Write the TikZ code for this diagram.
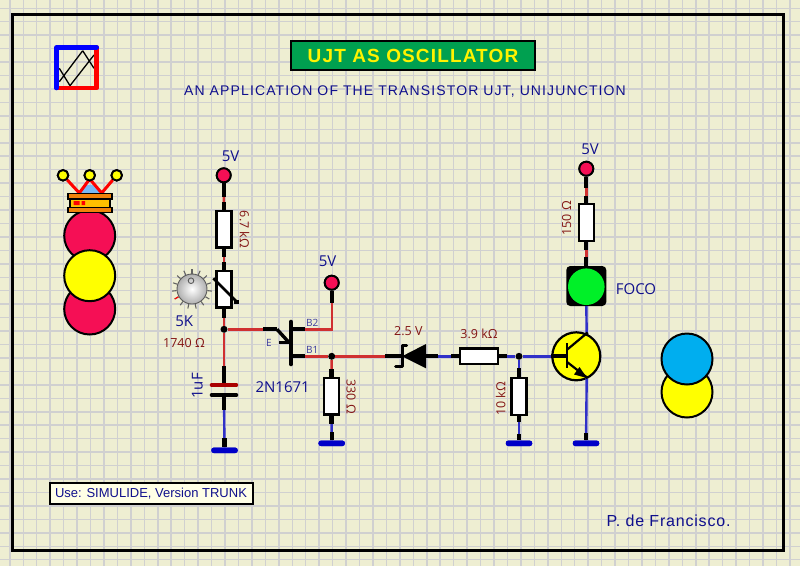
\documentclass[tikz,border=0pt]{standalone}
\usepackage{fontspec}
\setmainfont{Open Sans}
\newfontfamily\arialf{Liberation Sans}
\newfontfamily\authf[LetterSpace=5]{Liberation Sans}
\newfontfamily\subf[LetterSpace=8]{Liberation Sans}
\newfontfamily\titlef[LetterSpace=6]{Liberation Sans}
\definecolor{bgc}{RGB}{238,238,210}
\definecolor{gridc}{RGB}{208,208,208}
\definecolor{navyt}{RGB}{16,16,140}
\definecolor{redt}{RGB}{130,20,20}
\definecolor{wred}{RGB}{208,48,48}
\definecolor{wblue}{RGB}{48,48,200}
\definecolor{crim}{RGB}{245,15,85}
\definecolor{yell}{RGB}{255,255,0}
\definecolor{gnblue}{RGB}{0,0,200}
\definecolor{titleg}{RGB}{0,160,80}
\definecolor{crownb}{RGB}{120,185,245}
\definecolor{crowny}{RGB}{255,192,0}
\definecolor{crowno}{RGB}{240,130,10}
\definecolor{skyb}{RGB}{0,174,239}
\definecolor{ledg}{RGB}{0,240,40}
\definecolor{capr}{RGB}{170,0,0}
\definecolor{knobt}{RGB}{100,100,100}
\definecolor{knobe}{RGB}{175,175,175}
\definecolor{knobl}{RGB}{90,90,90}
\definecolor{pinlc}{RGB}{60,60,160}
\definecolor{notec}{RGB}{255,255,230}
\tikzset{
  x=1pt,y=-1pt,
  gridl/.style={gridc,line width=1.5pt},
  lead/.style={black,line width=4.2pt},
  wr/.style={wred,line width=2.4pt},
  wb/.style={wblue,line width=2.4pt},
  res/.style={draw=black,fill=white,line width=2.2pt,rectangle,inner sep=0pt,minimum width=#1},
  resv/.style={res=15pt,minimum height=36.5pt},
  pin/.style={circle,draw=black,fill=crim,line width=1.9pt,minimum size=14pt,inner sep=0pt},
  gnd/.style={rectangle,rounded corners=2.6pt,fill=gnblue,minimum width=26.5pt,minimum height=5.5pt,inner sep=0pt},
  dotj/.style={circle,fill=black,minimum size=7pt,inner sep=0pt},
  lampc/.style={circle,draw=black,line width=2pt,minimum size=51pt,inner sep=0pt},
  lbl/.style={navyt,font=\fontsize{15}{15}\selectfont,inner sep=0pt},
  val/.style={redt,font=\fontsize{12.5}{13}\selectfont,inner sep=0pt},
  pinl/.style={pinlc,font=\fontsize{10}{10}\selectfont,inner sep=0pt},
}
\begin{document}
\begin{tikzpicture}
\useasboundingbox (0,0) rectangle (800,566);
\fill[bgc] (0,0) rectangle (800,566);
\foreach \k in {0,...,59} \draw[gridl] ({9.8+13.45*\k},0) -- ({9.8+13.45*\k},566);
\foreach \k in {0,...,41} \draw[gridl] (0,{8.25+13.45*\k}) -- (800,{8.25+13.45*\k});
% frame
\draw[black,line width=3pt] (12.7,14) rectangle (783,550);
% logo
\draw[black,line width=1.3pt] (59.3,81.7) -- (82.7,50.7) (70,85.7) -- (94,55) (59.3,68.3) -- (70,85.7) (82.7,50.7) -- (94,68.3);
\draw[red,line width=4.6pt,line cap=round,line join=round] (96.7,47.5) -- (96.7,88) -- (56.5,88);
\draw[blue,line width=4.6pt,line cap=round,line join=round] (56.5,88) -- (56.5,47.5) -- (96.7,47.5);
% title
\node[draw=black,fill=titleg,line width=2pt,minimum width=244pt,minimum height=29pt,inner sep=0pt,text=yellow,font=\titlef\bfseries\fontsize{19}{19}\selectfont] (title) at (413,55.5) {\raisebox{-2pt}{UJT AS OSCILLATOR}};
\node[navyt,inner sep=0pt,font=\subf\fontsize{14}{14}\selectfont] (subtitle) at (405,91.8) {AN APPLICATION OF THE TRANSISTOR UJT, UNIJUNCTION};
% crown and lamps
\fill[crownb] (80.5,194) arc[start angle=180,end angle=360,radius=9.5] -- cycle;
\node[pin,fill=yell,minimum size=10.5pt] (c1) at (63,175.3) {};
\node[pin,fill=yell,minimum size=10.5pt] (c2) at (89.7,175.3) {};
\node[pin,fill=yell,minimum size=10.5pt] (c3) at (116.7,175.3) {};
\coordinate (cl) at (79.3,193);
\coordinate (cr) at (101.7,193);
\coordinate (cm) at (89.7,179);
\draw[red,line width=3pt] (c1) -- (cl) -- (cm) -- (cr) -- (c3);
\node[pin,fill=yell,minimum size=10.5pt] at (c1) {};
\node[pin,fill=yell,minimum size=10.5pt] at (c2) {};
\node[pin,fill=yell,minimum size=10.5pt] at (c3) {};
\node[lampc,fill=crim] (l1) at (89.7,235.7) {};
\node[lampc,fill=crim] (l3) at (89.7,309) {};
\node[lampc,fill=yell] (l2) at (89.7,275.7) {};
\draw[black,line width=1.5pt,fill=crowny] (70,199) rectangle (110,207.5);
\fill[red] (73.5,201) rectangle (79.5,205) (81.5,201) rectangle (85,205);
\draw[black,line width=1.5pt,fill=crowno] (68,193.7) rectangle (112,199);
\draw[black,line width=1.5pt,fill=crowno] (68,207.5) rectangle (112,212.3);
\node[lampc,fill=yell] (l6) at (687,392) {};
\node[lampc,fill=skyb] (l5) at (687,359) {};
% components
\node[pin] (p1) at (223.7,175.3) {};
\node[resv] (r1) at (224,229.2) {};
\node[resv] (pot) at (224,289.2) {};
\node[dotj] (j1) at (224,329.3) {};
\node[pin] (p2) at (331.7,282.7) {};
\coordinate (ub2) at (291,329.3);
\coordinate (ub1) at (291,356.3);
\coordinate (ue) at (263.3,329.3);
\coordinate (c2a) at (331.7,329.3);
\node[dotj] (j2) at (331.7,356.3) {};
\node[resv] (r330) at (331.5,396.3) {};
\node[gnd] (g1) at (224.5,450.3) {};
\node[gnd] (g2) at (331.7,443.3) {};
\node[gnd] (g3) at (519,443.3) {};
\node[gnd] (g4) at (586,443.3) {};
\coordinate (capt) at (224,385);
\coordinate (capb) at (224,395);
\coordinate (zk) at (402,356.3);
\coordinate (za) at (426,356.3);
\node[res=38.5pt,minimum height=15.5pt] (r39) at (479,356.3) {};
\node[dotj] (j3) at (519,356.3) {};
\node[resv] (r10) at (519,396.5) {};
\node[circle,draw=black,fill=yell,line width=2.2pt,minimum size=48pt,inner sep=0pt] (q) at (576.3,356.3) {};
\coordinate (qb) at (566.7,356.3);
\coordinate (qc) at (586.7,333.3);
\coordinate (qe) at (586.7,377.3);
\node[rectangle,rounded corners=4pt,fill=black,minimum size=40pt,inner sep=0pt] (led) at (586.3,286) {};
\node[circle,fill=ledg,minimum size=36.6pt,inner sep=0pt] (ledc) at (586.3,286.7) {};
\node[pin] (p3) at (586.3,168.7) {};
\node[resv] (r150) at (586.3,222.5) {};
% wires
\draw[wr] (p1) -- (r1.north);
\draw[wr] (r1.south) -- (pot.north);
\draw[wr] (pot.south) -- (j1);
\draw[wr] (j1) -- (capt);
\draw[wr] (j1) -- (ue);
\draw[wr] (ub2) -- (c2a) -- (p2);
\draw[wr] (ub1) -- (j2);
\draw[wr] (j2) -- (zk);
\draw[wr] (j2) -- (r330.north);
\draw[wb] (capb) -- (g1);
\draw[wb] (r330.south) -- (g2);
\draw[wb] (za) -- (r39.west);
\draw[wb] (r39.east) -- (j3);
\draw[wb] (j3) -- (qb);
\draw[wb] (j3) -- (r10.north);
\draw[wb] (r10.south) -- (g3);
\draw[wb] (qc) -- (led.south);
\draw[wb] (qe) -- (g4);
\draw[wr] (p3) -- (r150.north);
\draw[wr] (r150.south) -- (led.north);
% leads
\draw[lead] (p1) -- ++(0,22) (r1.north) -- ++(0,-8);
\draw[lead] (r1.south) -- ++(0,8) (pot.north) -- ++(0,-8);
\draw[lead] (pot.south) -- ++(0,9);
\draw[lead] (capt) -- ++(0,-19) (capb) -- ++(0,15) (g1) -- ++(0,-12);
\draw[lead] (p2) -- ++(0,20) (ub2) -- ++(14,0) (ub1) -- ++(14,0);
\draw[lead] (r330.north) -- ++(0,-8) (r330.south) -- ++(0,8) (g2) -- ++(0,-11);
\draw[lead] (zk) -- ++(-17,0) (za) -- ++(12,0);
\draw[lead] (r39.west) -- ++(-8,0) (r39.east) -- ++(8,0);
\draw[lead] (r10.north) -- ++(0,-9) (r10.south) -- ++(0,6) (g3) -- ++(0,-9);
\draw[lead] (g4) -- ++(0,-10) (qb) -- ++(-16,0);
\draw[lead] (p3) -- ++(0,19) (r150.north) -- ++(0,-7) (r150.south) -- ++(0,8) (led.north) -- ++(0,-9);
% redraw tops
\node[pin] at (p1) {};\node[pin] at (p2) {};\node[pin] at (p3) {};
\node[gnd] at (g1) {};\node[gnd] at (g2) {};\node[gnd] at (g3) {};\node[gnd] at (g4) {};
\node[resv] at (r1) {};\node[resv] at (pot) {};\node[resv] at (r330) {};\node[resv] at (r10) {};\node[resv] at (r150) {};
\node[res=38.5pt,minimum height=15.5pt] at (r39) {};
% capacitor
\draw[capr,line width=4.6pt,line cap=round] (212,385) -- (236,385);
\draw[black,line width=4.6pt,line cap=round] (212,395) -- (236,395);
% pot slider
\draw[black,line width=2.6pt] (213.3,278.3) -- (236,301);
\fill[black] (234,299.5) rectangle (238.7,303.7);
% knob
\foreach \a in {126,102,...,-210} \draw[knobt,line width=1.1pt] (192,289) ++(\a:15.5) -- ++(\a:4.5);
\draw[red,line width=1.1pt] (192,289) ++(150:15.5) -- ++(150:4.5);
\shade[inner color=white,outer color=knobe] (192,289) circle[radius=15];
\draw[knobl,line width=.9pt] (192,289) circle[radius=15];
\draw[knobl,line width=.9pt] (191,280.7) circle[radius=2.8];
% UJT
\draw[black,line width=4.6pt,line cap=round] (291,322) -- (291,364);
\draw[black,line width=3.4pt] (277,329.3) -- (289,342.5);
\draw[lead] (ue) -- ++(14,0);
\draw[black,line width=3pt] (279.3,342.7) -- (290,342.7);
% zener
\fill[black] (zk) -- (426,344) -- (426,368.3) -- cycle;
\draw[black,line width=3pt,line cap=round,line join=round] (406.7,345) -- (402,345) -- (402,366.7) -- (395.5,366.7);
% transistor
\draw[black,line width=2.2pt] (566.7,343.3) -- (566.7,368.3);
\draw[black,line width=2.2pt] (566.7,350) -- (qc);
\draw[black,line width=2.2pt] (566.7,361.7) -- (qe);
\fill[black] (587,378) -- (574,374.5) -- (579.5,367) -- cycle;
\node[circle,fill=black,minimum size=3.5pt,inner sep=0pt] at (qc) {};
\node[circle,fill=black,minimum size=3.5pt,inner sep=0pt] at (qe) {};
% labels
\node[lbl] (t1) at (230.5,156) {5V};
\node[lbl] (t2) at (327.5,261.5) {5V};
\node[lbl] (t3) at (590,149.3) {5V};
\node[lbl] (t4) at (184.3,321.7) {5K};
\node[lbl] (t5) at (282.7,386.7) {2N1671};
\node[lbl,rotate=90] (t6) at (197.3,386) {1uF};
\node[lbl] (t7) at (636,289) {FOCO};
\node[val,rotate=-90] (v1) at (244.5,229.5) {6.7 kΩ};
\node[val] (v2) at (184,343.3) {1740 Ω};
\node[val,rotate=-90] (v3) at (351,396.7) {330 Ω};
\node[val] (v4) at (408.3,330.7) {2.5 V};
\node[val] (v5) at (479,334) {3.9 kΩ};
\node[val,rotate=90] (v6) at (500.7,399) {10 kΩ};
\node[val,rotate=90] (v7) at (566.7,218.3) {150 Ω};
\node[pinl] (b2) at (312.3,323.3) {B2};
\node[pinl] (b1) at (312.3,350) {B1};
\node[pinl] (be) at (269,343.3) {E};
% note
\node[draw=black,fill=notec,line width=2pt,minimum width=203pt,minimum height=20.5pt,inner sep=0pt,text=navyt,font=\arialf\fontsize{13}{13}\selectfont] (note) at (151,493.7) {Use: SIMULIDE, Version TRUNK};
\node[navyt,inner sep=0pt,font=\authf\fontsize{16}{16}\selectfont] (auth) at (668.5,521) {P. de Francisco.};
\end{tikzpicture}
\end{document}
